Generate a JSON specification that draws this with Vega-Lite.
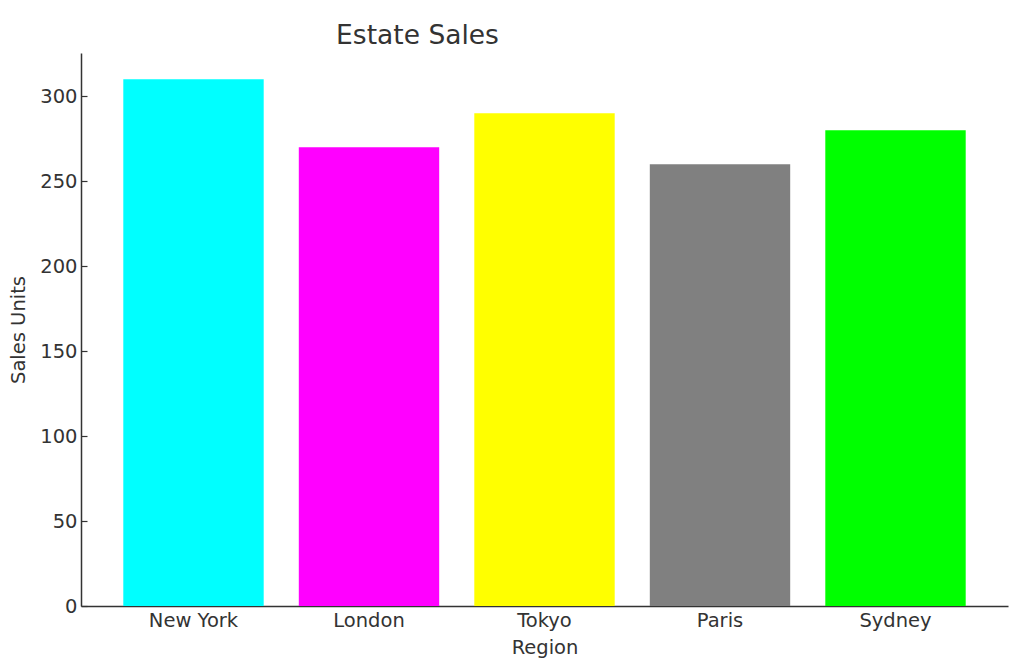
{
  "$schema": "https://vega.github.io/schema/vega-lite/v6.json",
  "width": 927,
  "height": 553,
  "autosize": "none",
  "padding": {"left": 81, "top": 53, "right": 16, "bottom": 65},
  "background": "white",
  "title": {
    "text": "Estate Sales",
    "anchor": "middle",
    "dx": -127,
    "dy": 26,
    "baseline": "alphabetic",
    "offset": 9,
    "fontSize": 26.5,
    "font": "DejaVu Sans",
    "fontWeight": "normal",
    "color": "#333333"
  },
  "config": {
    "view": {"stroke": null},
    "font": "DejaVu Sans",
    "axis": {
      "domainColor": "#333333",
      "domainWidth": 1.5,
      "tickColor": "#333333",
      "tickWidth": 1.2,
      "tickSize": -6,
      "labelFont": "DejaVu Sans",
      "labelFontSize": 19.5,
      "labelColor": "#333333",
      "titleFont": "DejaVu Sans",
      "titleFontSize": 19.5,
      "titleFontWeight": "normal",
      "titleColor": "#333333",
      "grid": false
    }
  },
  "data": {
    "values": [
      {"region": "New York", "sales": 310, "color": "#00FFFF"},
      {"region": "London", "sales": 270, "color": "#FF00FF"},
      {"region": "Tokyo", "sales": 290, "color": "#FFFF00"},
      {"region": "Paris", "sales": 260, "color": "#808080"},
      {"region": "Sydney", "sales": 280, "color": "#00FF00"}
    ]
  },
  "mark": {"type": "bar"},
  "encoding": {
    "x": {
      "field": "region",
      "type": "nominal",
      "sort": null,
      "title": "Region",
      "scale": {"paddingInner": 0.2, "paddingOuter": 0.241},
      "axis": {"labelAngle": 0, "labelPadding": 11, "titlePadding": 9}
    },
    "y": {
      "field": "sales",
      "type": "quantitative",
      "title": "Sales Units",
      "scale": {"domain": [0, 325.5], "nice": false},
      "axis": {"values": [0, 50, 100, 150, 200, 250, 300], "labelPadding": 10, "titlePadding": 11}
    },
    "color": {"field": "color", "type": "nominal", "scale": null, "legend": null}
  }
}
